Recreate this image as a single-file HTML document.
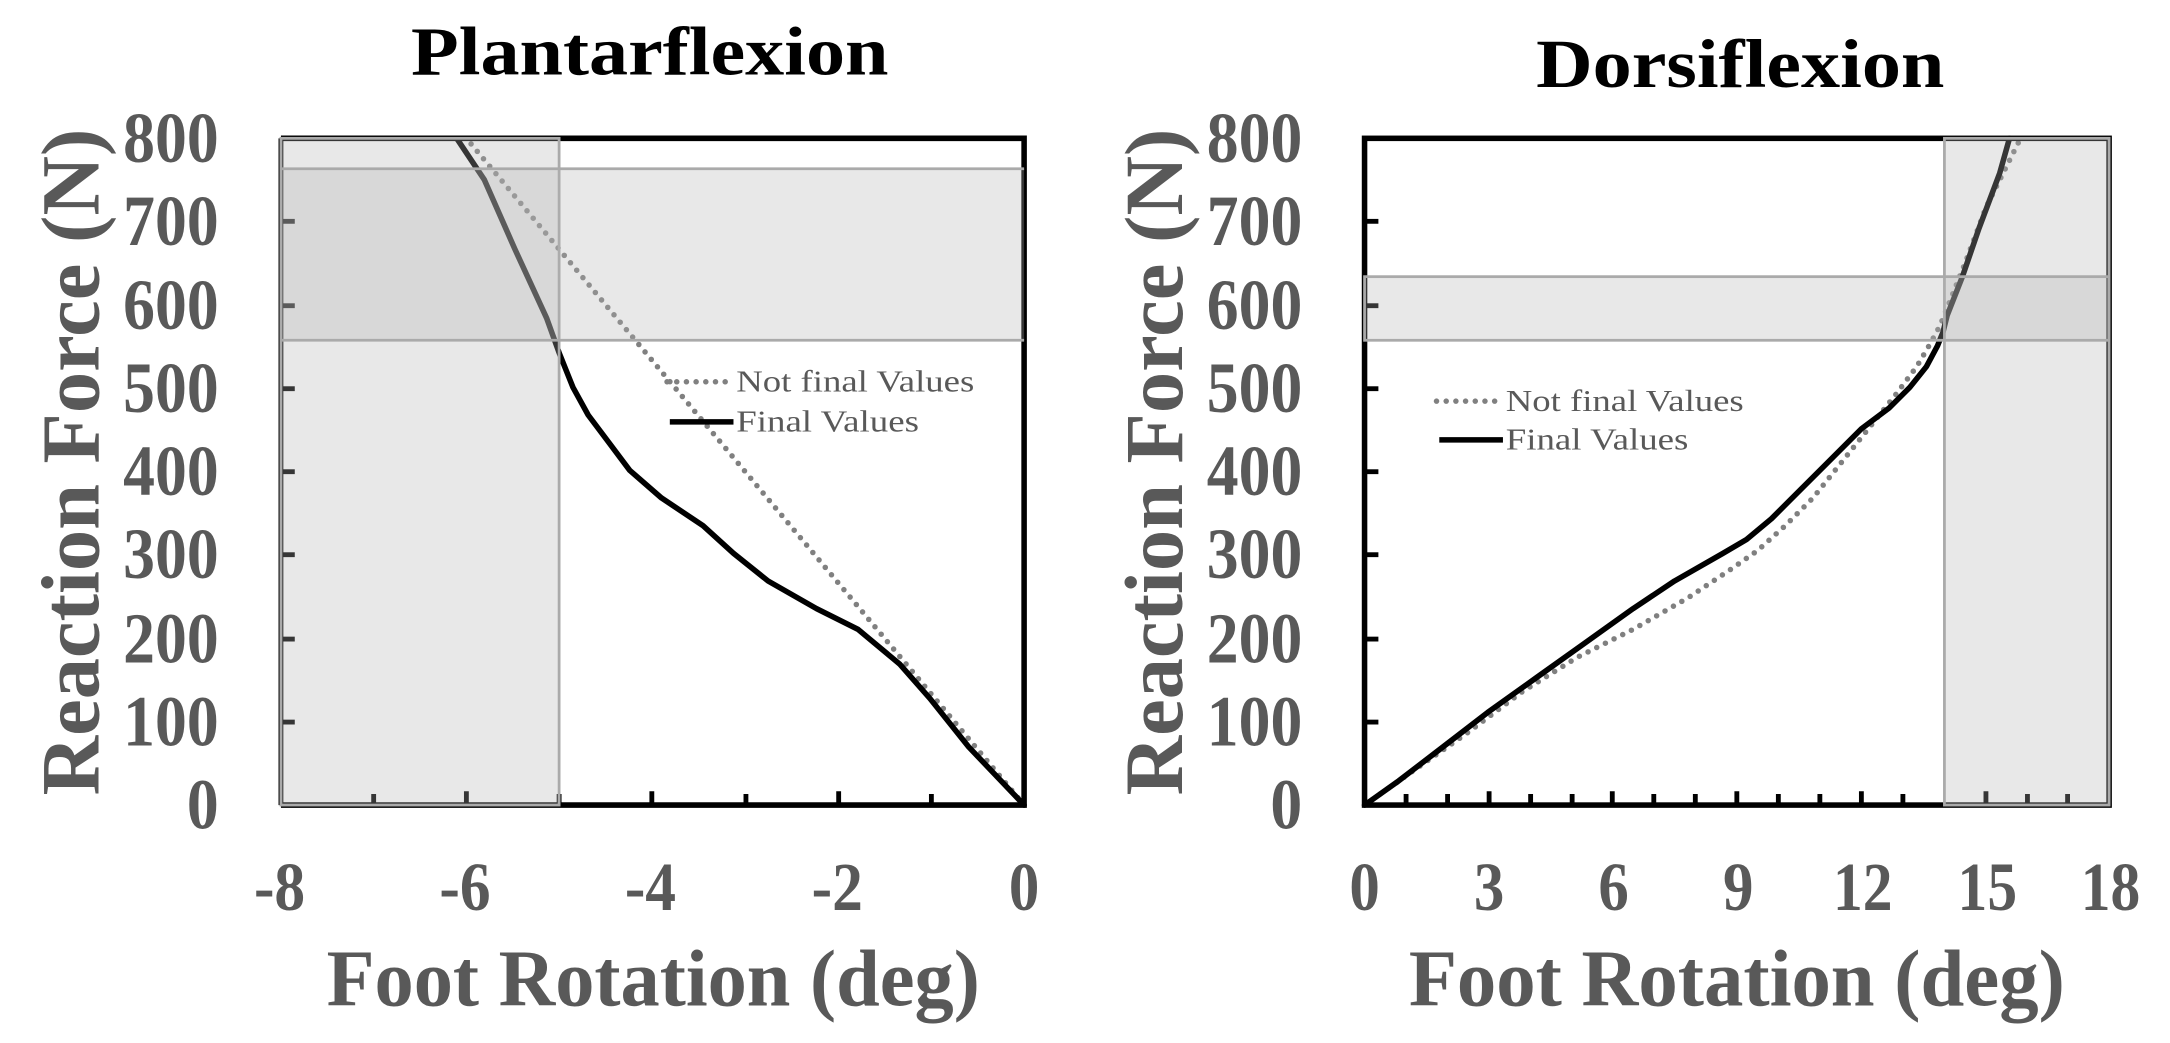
<!DOCTYPE html>
<html><head><meta charset="utf-8"><style>
html,body{margin:0;padding:0;background:#fff;}
svg{display:block;}
text{font-family:"Liberation Serif","Times New Roman",serif;font-weight:bold;}
</style></head><body>
<svg width="2170" height="1043" viewBox="0 0 1568 754" preserveAspectRatio="none" xmlns="http://www.w3.org/2000/svg">
<text x="469.5" y="54" font-size="50" text-anchor="middle" fill="#000" textLength="345" lengthAdjust="spacingAndGlyphs">Plantarflexion</text>
<text x="1257.5" y="63" font-size="50" text-anchor="middle" fill="#000" textLength="295" lengthAdjust="spacingAndGlyphs">Dorsiflexion</text>

<!-- LEFT PLOT -->
<g>
<polyline fill="none" stroke="#808080" stroke-width="4" stroke-linecap="round" stroke-dasharray="0 7" points="740,582 337,100"/>
<polyline fill="none" stroke="#000" stroke-width="4" stroke-linejoin="round" stroke-linecap="round" points="740,582 700,540 672,505 650,480 620,455 590,440 555,420 530,400 508,380 478,360 455,340 440,320 425,300 414,280 404,255 395,230 372,180 350,130 330,100"/>
<path d="M203,100 H740 V582 H203" fill="none" stroke="#000" stroke-width="4"/>
<g stroke="#000" stroke-width="3.5">
<line x1="270" y1="582" x2="270" y2="574"/><line x1="337" y1="582" x2="337" y2="572"/><line x1="404" y1="582" x2="404" y2="574"/><line x1="471" y1="582" x2="471" y2="572"/><line x1="539" y1="582" x2="539" y2="574"/><line x1="606" y1="582" x2="606" y2="572"/><line x1="673" y1="582" x2="673" y2="574"/>
<line x1="203" y1="100" x2="203" y2="582"/>
<line x1="203" y1="522" x2="213" y2="522"/><line x1="203" y1="462" x2="213" y2="462"/><line x1="203" y1="401" x2="213" y2="401"/><line x1="203" y1="341" x2="213" y2="341"/><line x1="203" y1="281" x2="213" y2="281"/><line x1="203" y1="221" x2="213" y2="221"/><line x1="203" y1="160" x2="213" y2="160"/>
</g>
<rect x="203" y="100" width="201" height="482" fill="rgb(180,180,180)" fill-opacity="0.3" stroke="#aaa" stroke-width="2"/>
<rect x="203" y="122" width="537" height="124" fill="rgb(180,180,180)" fill-opacity="0.3"/>
<line x1="203" y1="122" x2="740" y2="122" stroke="#aaa" stroke-width="2"/>
<line x1="203" y1="246" x2="740" y2="246" stroke="#aaa" stroke-width="2"/>
<line x1="482" y1="276" x2="530" y2="276" stroke="#808080" stroke-width="4" stroke-linecap="round" stroke-dasharray="0 7"/>
<line x1="484" y1="305" x2="530" y2="305" stroke="#000" stroke-width="4"/>
<text x="532" y="283" font-size="22" style="font-weight:normal" fill="#595959" textLength="172" lengthAdjust="spacingAndGlyphs">Not final Values</text>
<text x="532" y="312" font-size="22" style="font-weight:normal" fill="#595959" textLength="132" lengthAdjust="spacingAndGlyphs">Final Values</text>
<g fill="#595959" font-size="52" text-anchor="end">
<text x="158" y="599" textLength="23" lengthAdjust="spacingAndGlyphs">0</text>
<text x="158" y="539" textLength="69" lengthAdjust="spacingAndGlyphs">100</text>
<text x="158" y="479" textLength="69" lengthAdjust="spacingAndGlyphs">200</text>
<text x="158" y="418" textLength="69" lengthAdjust="spacingAndGlyphs">300</text>
<text x="158" y="358" textLength="69" lengthAdjust="spacingAndGlyphs">400</text>
<text x="158" y="298" textLength="69" lengthAdjust="spacingAndGlyphs">500</text>
<text x="158" y="238" textLength="69" lengthAdjust="spacingAndGlyphs">600</text>
<text x="158" y="177" textLength="69" lengthAdjust="spacingAndGlyphs">700</text>
<text x="158" y="117" textLength="69" lengthAdjust="spacingAndGlyphs">800</text>
</g>
<g fill="#595959" font-size="50" text-anchor="middle">
<text x="202" y="658" textLength="37" lengthAdjust="spacingAndGlyphs">-8</text>
<text x="336" y="658" textLength="37" lengthAdjust="spacingAndGlyphs">-6</text>
<text x="470" y="658" textLength="37" lengthAdjust="spacingAndGlyphs">-4</text>
<text x="605" y="658" textLength="37" lengthAdjust="spacingAndGlyphs">-2</text>
<text x="740" y="658" textLength="22" lengthAdjust="spacingAndGlyphs">0</text>
</g>
<text x="472" y="727" font-size="58" text-anchor="middle" fill="#595959" textLength="472" lengthAdjust="spacingAndGlyphs">Foot Rotation (deg)</text>
<text transform="translate(71,334) rotate(-90)" font-size="60" text-anchor="middle" fill="#595959" textLength="482" lengthAdjust="spacingAndGlyphs">Reaction Force (N)</text>
</g>

<!-- RIGHT PLOT -->
<g>
<polyline fill="none" stroke="#808080" stroke-width="4" stroke-linecap="round" stroke-dasharray="0 7" points="986,582 1020,558 1060,530 1100,500 1140,475 1180,455 1220,432 1250,412 1270,398 1290,380 1310,360 1330,335 1350,310 1370,285 1385,265 1395,248 1402,235 1410,215 1420,190 1435,150 1460,100"/>
<polyline fill="none" stroke="#000" stroke-width="4" stroke-linejoin="round" stroke-linecap="round" points="986,582 1010,565 1040,542 1075,515 1110,490 1145,465 1180,440 1210,420 1245,400 1262,390 1280,375 1300,355 1320,335 1345,310 1365,295 1380,280 1392,265 1400,250 1404,240 1407,228 1418,200 1430,165 1445,125 1452,100"/>
<rect x="986" y="100" width="538" height="482" fill="none" stroke="#000" stroke-width="4"/>
<g stroke="#000" stroke-width="3.5">
<line x1="1016" y1="582" x2="1016" y2="574"/><line x1="1046" y1="582" x2="1046" y2="574"/><line x1="1076" y1="582" x2="1076" y2="572"/><line x1="1106" y1="582" x2="1106" y2="574"/><line x1="1136" y1="582" x2="1136" y2="574"/><line x1="1165" y1="582" x2="1165" y2="572"/><line x1="1195" y1="582" x2="1195" y2="574"/><line x1="1225" y1="582" x2="1225" y2="574"/><line x1="1255" y1="582" x2="1255" y2="572"/><line x1="1285" y1="582" x2="1285" y2="574"/><line x1="1315" y1="582" x2="1315" y2="574"/><line x1="1345" y1="582" x2="1345" y2="572"/><line x1="1375" y1="582" x2="1375" y2="574"/><line x1="1435" y1="582" x2="1435" y2="572"/><line x1="1465" y1="582" x2="1465" y2="574"/><line x1="1494" y1="582" x2="1494" y2="574"/>
<line x1="986" y1="522" x2="996" y2="522"/><line x1="986" y1="462" x2="996" y2="462"/><line x1="986" y1="401" x2="996" y2="401"/><line x1="986" y1="341" x2="996" y2="341"/><line x1="986" y1="281" x2="996" y2="281"/><line x1="986" y1="221" x2="996" y2="221"/><line x1="986" y1="160" x2="996" y2="160"/>
</g>
<rect x="1405" y="100" width="119" height="482" fill="rgb(180,180,180)" fill-opacity="0.3" stroke="#aaa" stroke-width="2"/>
<rect x="986" y="200" width="538" height="46" fill="rgb(180,180,180)" fill-opacity="0.3" stroke="#aaa" stroke-width="2"/>
<line x1="1038" y1="290" x2="1086" y2="290" stroke="#808080" stroke-width="4" stroke-linecap="round" stroke-dasharray="0 7"/>
<line x1="1040" y1="318" x2="1086" y2="318" stroke="#000" stroke-width="4"/>
<text x="1088" y="297" font-size="22" style="font-weight:normal" fill="#595959" textLength="172" lengthAdjust="spacingAndGlyphs">Not final Values</text>
<text x="1088" y="325" font-size="22" style="font-weight:normal" fill="#595959" textLength="132" lengthAdjust="spacingAndGlyphs">Final Values</text>
<g fill="#595959" font-size="52" text-anchor="end">
<text x="941" y="599" textLength="23" lengthAdjust="spacingAndGlyphs">0</text>
<text x="941" y="539" textLength="69" lengthAdjust="spacingAndGlyphs">100</text>
<text x="941" y="479" textLength="69" lengthAdjust="spacingAndGlyphs">200</text>
<text x="941" y="418" textLength="69" lengthAdjust="spacingAndGlyphs">300</text>
<text x="941" y="358" textLength="69" lengthAdjust="spacingAndGlyphs">400</text>
<text x="941" y="298" textLength="69" lengthAdjust="spacingAndGlyphs">500</text>
<text x="941" y="238" textLength="69" lengthAdjust="spacingAndGlyphs">600</text>
<text x="941" y="177" textLength="69" lengthAdjust="spacingAndGlyphs">700</text>
<text x="941" y="117" textLength="69" lengthAdjust="spacingAndGlyphs">800</text>
</g>
<g fill="#595959" font-size="50" text-anchor="middle">
<text x="986" y="658" textLength="22" lengthAdjust="spacingAndGlyphs">0</text>
<text x="1076" y="658" textLength="22" lengthAdjust="spacingAndGlyphs">3</text>
<text x="1166" y="658" textLength="22" lengthAdjust="spacingAndGlyphs">6</text>
<text x="1256" y="658" textLength="22" lengthAdjust="spacingAndGlyphs">9</text>
<text x="1346" y="658" textLength="43" lengthAdjust="spacingAndGlyphs">12</text>
<text x="1436" y="658" textLength="43" lengthAdjust="spacingAndGlyphs">15</text>
<text x="1525" y="658" textLength="43" lengthAdjust="spacingAndGlyphs">18</text>
</g>
<text x="1255" y="727" font-size="58" text-anchor="middle" fill="#595959" textLength="474" lengthAdjust="spacingAndGlyphs">Foot Rotation (deg)</text>
<text transform="translate(854,334) rotate(-90)" font-size="60" text-anchor="middle" fill="#595959" textLength="482" lengthAdjust="spacingAndGlyphs">Reaction Force (N)</text>
</g>
</svg>
</body></html>
